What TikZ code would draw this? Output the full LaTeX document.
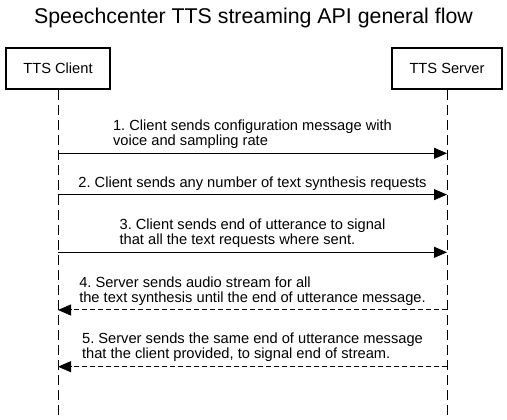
\documentclass[tikz,border=0pt]{standalone}
\usepackage{fontspec}
\setmainfont{Liberation Sans}
\usetikzlibrary{arrows.meta}
\frenchspacing
\newcommand{\lbltext}[1]{\begin{tabular}{@{}l@{}}#1\end{tabular}}
\begin{document}
\begin{tikzpicture}[x=0.75pt,y=-0.75pt,
 actor/.style={draw,line width=1.5pt,minimum width=#1,minimum height=31pt,inner sep=0pt,font=\fontsize{11}{12}\selectfont},
 lifeline/.style={line width=0.75pt,dash pattern=on 7.5pt off 3.75pt},
 msg/.style={line width=0.75pt,-{Triangle[length=9.75pt,width=8.25pt]}},
 reply/.style={msg,dash pattern=on 3.75pt off 2.25pt},
 lbl/.style={anchor=south,inner sep=0pt,font=\fontsize{11}{11.25}\selectfont\frenchspacing}]
\useasboundingbox (0,0) rectangle (507,420);
\node[anchor=base,inner sep=0pt,font=\fontsize{16}{19}\selectfont] (title) at (253.5,24) {Speechcenter TTS streaming API general flow};
\node[actor=78pt] (client) at (58,68.3) {TTS Client};
\node[actor=82.5pt] (server) at (447,68.3) {TTS Server};
\coordinate (cend) at (58,420);
\coordinate (send) at (447,420);
\draw[lifeline] (client.south) -- (cend);
\draw[lifeline] (server.south) -- (send);
% message 1
\coordinate (c1) at (58,153.3);
\coordinate (s1) at (447,153.3);
\draw[msg] (c1) -- (s1);
\node[lbl] (l1) at (252.5,150.3) {\lbltext{1. Client sends configuration message with\\voice and sampling rate}};
% message 2
\coordinate (c2) at (58,194.6);
\coordinate (s2) at (447,194.6);
\draw[msg] (c2) -- (s2);
\node[lbl] (l2) at (252.5,191.8) {\lbltext{2. Client sends any number of text synthesis requests}};
% message 3
\coordinate (c3) at (58,252.3);
\coordinate (s3) at (447,252.3);
\draw[msg] (c3) -- (s3);
\node[lbl] (l3) at (252.5,249.6) {\lbltext{3. Client sends end of utterance to signal\\that all the text requests where sent.}};
% message 4
\coordinate (c4) at (58,310);
\coordinate (s4) at (447,310);
\draw[reply] (s4) -- (c4);
\node[lbl] (l4) at (252.5,307) {\lbltext{4. Server sends audio stream for all\\the text synthesis until the end of utterance message.}};
% message 5
\coordinate (c5) at (58,366.7);
\coordinate (s5) at (447,366.7);
\draw[reply] (s5) -- (c5);
\node[lbl] (l5) at (252.5,363.7) {\lbltext{5. Server sends the same end of utterance message\\that the client provided, to signal end of stream.}};
\end{tikzpicture}
\end{document}
